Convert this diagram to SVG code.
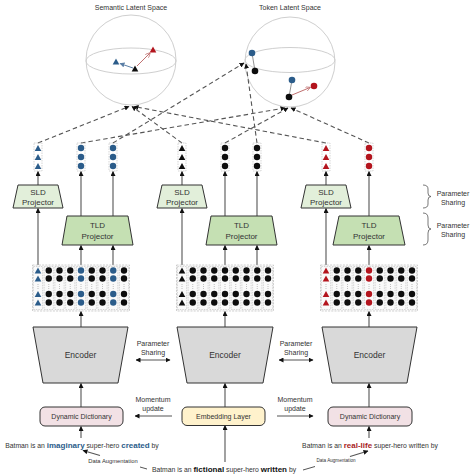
<svg xmlns="http://www.w3.org/2000/svg" xmlns:xlink="http://www.w3.org/1999/xlink" width="474" height="476" viewBox="0 0 474 476">
<style>
text{font-family:"Liberation Sans",Arial,sans-serif;fill:#333}
.lbl{font-size:7px;text-anchor:middle}
.pj{font-size:8px;text-anchor:middle}
.enc{font-size:8.5px;text-anchor:middle}
.sent{font-size:6.8px;text-anchor:middle}
.b{font-weight:bold;font-size:8px}
.sld{fill:#e2efda;stroke:#333;stroke-width:1}
.tld{fill:#c5e0b3;stroke:#333;stroke-width:1}
.encs{fill:#d9d9d9;stroke:#333;stroke-width:1}
.ar{stroke:#555;stroke-width:1.1;fill:none;marker-end:url(#ah)}
.dl{stroke:#555;stroke-width:1.1;fill:none;stroke-dasharray:4.5 3;marker-end:url(#ah)}
.cbox{fill:none;stroke:#bbb;stroke-width:0.6;stroke-dasharray:1.5 1}
.mbox{fill:#fafafa;stroke:#bbb;stroke-width:0.7;stroke-dasharray:2 1.2}
.ell{stroke:#999;stroke-width:0.6;stroke-dasharray:1 1}
.sph{fill:none;stroke:#cfcfcf;stroke-width:1}
</style>
<defs>
<marker id="ah" viewBox="0 0 10 10" refX="9" refY="5" markerWidth="5" markerHeight="5" markerUnits="userSpaceOnUse" orient="auto-start-reverse"><path d="M0,0 L10,5 L0,10 z" fill="#111"/></marker>
<marker id="ahb" viewBox="0 0 10 10" refX="9" refY="5" markerWidth="5" markerHeight="5" markerUnits="userSpaceOnUse" orient="auto"><path d="M0,0 L10,5 L0,10 z" fill="#5b7fa6"/></marker>
<marker id="ahr" viewBox="0 0 10 10" refX="9" refY="5" markerWidth="5" markerHeight="5" markerUnits="userSpaceOnUse" orient="auto"><path d="M0,0 L10,5 L0,10" fill="none" stroke="#c07070" stroke-width="1.5"/></marker>
<path id="t" d="M0,-3.4 L3.3,2.6 L-3.3,2.6Z"/>
<g id="cc"><rect x="-4.6" y="1.5" width="9.2" height="43" class="cbox"/><circle cy="5.5" r="3.2"/><circle cy="13.5" r="3.2"/><line y1="19" y2="25" class="ell"/><circle cy="29" r="3.2"/><circle cy="37.5" r="3.2"/></g>
<g id="tc"><rect x="-4.6" y="1.5" width="9.2" height="43" class="cbox"/><use xlink:href="#t" y="5.8"/><use xlink:href="#t" y="13.8"/><line y1="19" y2="25" class="ell"/><use xlink:href="#t" y="29.3"/><use xlink:href="#t" y="37.8"/></g>
<g id="vcc"><circle cy="5" r="3.2"/><circle cy="14" r="3.2"/><circle cy="23" r="3.2"/></g>
<g id="vtc"><use xlink:href="#t" y="5.3"/><use xlink:href="#t" y="14.3"/><use xlink:href="#t" y="23.3"/></g>
</defs>
<rect width="474" height="476" fill="#fff"/>

<!-- spheres -->
<g id="semantic-space">
<text class="lbl" x="131" y="9.5">Semantic Latent Space</text>
<circle class="sph" cx="131" cy="60" r="45"/>
<ellipse class="sph" cx="131" cy="61" rx="45" ry="13"/>
<line x1="133" y1="68" x2="120" y2="63.5" stroke="#5b7fa6" stroke-width="1" marker-end="url(#ahb)"/>
<line x1="137" y1="66" x2="150" y2="53" stroke="#c07070" stroke-width="1" marker-end="url(#ahr)"/>
<use xlink:href="#t" x="116" y="62" fill="#2b5c8a"/>
<use xlink:href="#t" x="135" y="69" fill="#0d0d0d"/>
<use xlink:href="#t" x="153" y="50" fill="#b3141d"/>
</g>
<g id="token-space">
<text class="lbl" x="290" y="9.5">Token Latent Space</text>
<circle class="sph" cx="290" cy="62" r="45"/>
<ellipse class="sph" cx="290" cy="60" rx="45" ry="12.5"/>
<line x1="255" y1="71" x2="252" y2="53" stroke="#777" stroke-width="0.8"/>
<line x1="289" y1="97" x2="292" y2="80" stroke="#777" stroke-width="0.8"/>
<line x1="292" y1="95" x2="310" y2="87.5" stroke="#c07070" stroke-width="1" marker-end="url(#ahr)"/>
<circle cx="252" cy="53" r="3.3" fill="#2b5c8a"/>
<circle cx="255" cy="71" r="3.3" fill="#0d0d0d"/>
<circle cx="292" cy="80" r="3.3" fill="#2b5c8a"/>
<circle cx="289" cy="97" r="3.3" fill="#0d0d0d"/>
<circle cx="314" cy="86" r="3.3" fill="#b3141d"/>
</g>

<!-- connectors -->
<g id="connectors">
<line class="dl" x1="38" y1="143" x2="129" y2="106.5"/>
<line class="dl" x1="182" y1="143" x2="132" y2="106.5"/>
<line class="dl" x1="326" y1="143" x2="134" y2="106.5"/>
<line class="dl" x1="81" y1="143" x2="285" y2="108"/>
<line class="dl" x1="113" y1="143" x2="244" y2="63"/>
<line class="dl" x1="225" y1="143" x2="288" y2="108"/>
<line class="dl" x1="257" y1="143" x2="246" y2="64"/>
<line class="dl" x1="369" y1="143" x2="291" y2="108"/>

<line class="ar" x1="38" y1="185" x2="38" y2="171.5"/>
<line class="ar" x1="182" y1="185" x2="182" y2="171.5"/>
<line class="ar" x1="326" y1="185" x2="326" y2="171.5"/>
<line class="ar" x1="81" y1="216" x2="81" y2="171.5"/>
<line class="ar" x1="113" y1="216" x2="113" y2="171.5"/>
<line class="ar" x1="225" y1="216" x2="225" y2="171.5"/>
<line class="ar" x1="257" y1="216" x2="257" y2="171.5"/>
<line class="ar" x1="369" y1="216" x2="369" y2="171.5"/>

<line class="ar" x1="38" y1="265" x2="38" y2="208.5"/>
<line class="ar" x1="182" y1="265" x2="182" y2="208.5"/>
<line class="ar" x1="326" y1="265" x2="326" y2="208.5"/>
<line class="ar" x1="81" y1="265" x2="81" y2="245.5"/>
<line class="ar" x1="113" y1="265" x2="113" y2="245.5"/>
<line class="ar" x1="225" y1="265" x2="225" y2="245.5"/>
<line class="ar" x1="257" y1="265" x2="257" y2="245.5"/>
<line class="ar" x1="369" y1="265" x2="369" y2="245.5"/>

<line class="ar" x1="81" y1="327" x2="81" y2="311.5"/>
<line class="ar" x1="225" y1="327" x2="225" y2="311.5"/>
<line class="ar" x1="369" y1="327" x2="369" y2="311.5"/>
<line class="ar" x1="81" y1="407" x2="81" y2="383.5"/>
<line class="ar" x1="225" y1="407" x2="225" y2="383.5"/>
<line class="ar" x1="369" y1="407" x2="369" y2="383.5"/>
<line class="ar" x1="81" y1="438" x2="81" y2="426.5"/>
<line class="ar" x1="225" y1="462" x2="225" y2="425.5"/>
<line class="ar" x1="369" y1="438" x2="369" y2="426.5"/>

<line class="ar" x1="136" y1="360" x2="170" y2="360" style="marker-start:url(#ah)"/>
<line class="ar" x1="279" y1="360" x2="313" y2="360" style="marker-start:url(#ah)"/>
<line class="ar" x1="172" y1="416" x2="135" y2="416"/>
<line class="ar" x1="277" y1="416" x2="313" y2="416"/>

<line x1="147" y1="469" x2="140" y2="467" stroke="#555" stroke-width="1"/>
<line class="ar" x1="100" y1="455.5" x2="83" y2="450.5"/>
<line x1="303" y1="470" x2="315" y2="466.5" stroke="#555" stroke-width="1"/>
<line class="ar" x1="350" y1="456.5" x2="368" y2="451"/>
</g>

<!-- top vectors -->
<g id="vectors">
<rect x="34" y="143" width="8" height="28" fill="#dfe8f2" class="cbox"/><use xlink:href="#vtc" x="38" y="143" fill="#2b5c8a"/>
<rect x="77" y="143" width="8" height="28" fill="#dfe8f2" class="cbox"/><use xlink:href="#vcc" x="81" y="143" fill="#2b5c8a"/>
<rect x="109" y="143" width="8" height="28" fill="#dfe8f2" class="cbox"/><use xlink:href="#vcc" x="113" y="143" fill="#2b5c8a"/>
<rect x="178" y="143" width="8" height="28" fill="#f2f2f2" class="cbox"/><use xlink:href="#vtc" x="182" y="143" fill="#0d0d0d"/>
<rect x="221" y="143" width="8" height="28" fill="#f2f2f2" class="cbox"/><use xlink:href="#vcc" x="225" y="143" fill="#0d0d0d"/>
<rect x="253" y="143" width="8" height="28" fill="#f2f2f2" class="cbox"/><use xlink:href="#vcc" x="257" y="143" fill="#0d0d0d"/>
<rect x="322" y="143" width="8" height="28" fill="#f7e0e0" class="cbox"/><use xlink:href="#vtc" x="326" y="143" fill="#b3141d"/>
<rect x="365" y="143" width="8" height="28" fill="#f7e0e0" class="cbox"/><use xlink:href="#vcc" x="369" y="143" fill="#b3141d"/>
</g>

<!-- projectors -->
<g id="sld-left"><polygon class="sld" points="18,185 58,185 63,208 13,208"/><text class="pj" x="38" y="194.5">SLD</text><text class="pj" x="38" y="205">Projector</text></g>
<g id="sld-mid"><polygon class="sld" points="162,185 202,185 207,208 157,208"/><text class="pj" x="182" y="194.5">SLD</text><text class="pj" x="182" y="205">Projector</text></g>
<g id="sld-right"><polygon class="sld" points="306,185 346,185 351,208 301,208"/><text class="pj" x="326" y="194.5">SLD</text><text class="pj" x="326" y="205">Projector</text></g>
<g id="tld-left"><polygon class="tld" points="67,216 128,216 133,245 62,245"/><text class="pj" x="97.5" y="228">TLD</text><text class="pj" x="97.5" y="239">Projector</text></g>
<g id="tld-mid"><polygon class="tld" points="211,216 272,216 277,245 206,245"/><text class="pj" x="241.5" y="228">TLD</text><text class="pj" x="241.5" y="239">Projector</text></g>
<g id="tld-right"><polygon class="tld" points="339,216 399,216 405,245 333,245"/><text class="pj" x="369" y="228">TLD</text><text class="pj" x="369" y="239">Projector</text></g>

<g id="sharing-braces">
<path d="M423,185 Q428,185 428,189 L428,193 Q428,196.5 431,196.5 Q428,196.5 428,200 L428,204 Q428,208 423,208" fill="none" stroke="#555" stroke-width="0.8"/>
<text class="lbl" x="453" y="195.5">Parameter</text><text class="lbl" x="453" y="204.5">Sharing</text>
<path d="M423,213 Q428,213 428,218 L428,225 Q428,229 431,229 Q428,229 428,233 L428,240 Q428,245 423,245" fill="none" stroke="#555" stroke-width="0.8"/>
<text class="lbl" x="453" y="227.5">Parameter</text><text class="lbl" x="453" y="237">Sharing</text>
</g>

<!-- token matrices -->
<g id="matrix-left">
<rect class="mbox" x="32.5" y="265" width="97" height="46"/>
<use xlink:href="#tc" x="38" y="265" fill="#2b5c8a"/>
<use xlink:href="#cc" x="48.75" y="265" fill="#0d0d0d"/>
<use xlink:href="#cc" x="59.5" y="265" fill="#0d0d0d"/>
<use xlink:href="#cc" x="70.25" y="265" fill="#0d0d0d"/>
<use xlink:href="#cc" x="81" y="265" fill="#2b5c8a"/>
<use xlink:href="#cc" x="91.75" y="265" fill="#0d0d0d"/>
<use xlink:href="#cc" x="102.5" y="265" fill="#0d0d0d"/>
<use xlink:href="#cc" x="113.25" y="265" fill="#2b5c8a"/>
<use xlink:href="#cc" x="124" y="265" fill="#0d0d0d"/>
</g>
<g id="matrix-mid">
<rect class="mbox" x="176.5" y="265" width="97" height="46"/>
<use xlink:href="#tc" x="182" y="265" fill="#0d0d0d"/>
<use xlink:href="#cc" x="192.75" y="265" fill="#0d0d0d"/>
<use xlink:href="#cc" x="203.5" y="265" fill="#0d0d0d"/>
<use xlink:href="#cc" x="214.25" y="265" fill="#0d0d0d"/>
<use xlink:href="#cc" x="225" y="265" fill="#0d0d0d"/>
<use xlink:href="#cc" x="235.75" y="265" fill="#0d0d0d"/>
<use xlink:href="#cc" x="246.5" y="265" fill="#0d0d0d"/>
<use xlink:href="#cc" x="257.25" y="265" fill="#0d0d0d"/>
<use xlink:href="#cc" x="268" y="265" fill="#0d0d0d"/>
</g>
<g id="matrix-right">
<rect class="mbox" x="320.5" y="265" width="97" height="46"/>
<use xlink:href="#tc" x="326" y="265" fill="#b3141d"/>
<use xlink:href="#cc" x="336.75" y="265" fill="#0d0d0d"/>
<use xlink:href="#cc" x="347.5" y="265" fill="#0d0d0d"/>
<use xlink:href="#cc" x="358.25" y="265" fill="#0d0d0d"/>
<use xlink:href="#cc" x="369" y="265" fill="#b3141d"/>
<use xlink:href="#cc" x="379.75" y="265" fill="#0d0d0d"/>
<use xlink:href="#cc" x="390.5" y="265" fill="#0d0d0d"/>
<use xlink:href="#cc" x="401.25" y="265" fill="#0d0d0d"/>
<use xlink:href="#cc" x="412" y="265" fill="#0d0d0d"/>
</g>

<!-- encoders -->
<g id="encoder-left"><polygon class="encs" points="33,327 128,327 118,383 43,383"/><text class="enc" x="80.5" y="358">Encoder</text></g>
<g id="encoder-mid"><polygon class="encs" points="177,327 273,327 263,383 187,383"/><text class="enc" x="225" y="358">Encoder</text></g>
<g id="encoder-right"><polygon class="encs" points="322,327 417,327 407,383 332,383"/><text class="enc" x="369.5" y="358">Encoder</text></g>

<g id="labels-mid">
<text class="lbl" x="153" y="345.5">Parameter</text><text class="lbl" x="153" y="354.5">Sharing</text>
<text class="lbl" x="296" y="345.5">Parameter</text><text class="lbl" x="296" y="354.5">Sharing</text>
<text class="lbl" x="153" y="401.5">Momentum</text><text class="lbl" x="153" y="411">update</text>
<text class="lbl" x="295" y="401.5">Momentum</text><text class="lbl" x="295" y="411">update</text>
</g>

<g id="dict-left"><rect x="40" y="407" width="83" height="19" rx="5" fill="#f2e1e5" stroke="#333" stroke-width="1"/><text class="lbl" x="81.5" y="418.5">Dynamic Dictionary</text></g>
<g id="embedding"><rect x="182" y="407" width="83" height="18.5" rx="5" fill="#fff2cc" stroke="#333" stroke-width="1"/><text class="lbl" x="223.5" y="418.5">Embedding Layer</text></g>
<g id="dict-right"><rect x="328" y="407" width="84" height="19" rx="5" fill="#f2e1e5" stroke="#333" stroke-width="1"/><text class="lbl" x="370" y="418.5">Dynamic Dictionary</text></g>

<g id="sentences">
<text class="sent" x="82" y="448">Batman is an <tspan class="b" fill="#2b5c8a">imaginary</tspan> super-hero <tspan class="b" fill="#2b5c8a">created</tspan> by</text>
<text class="sent" x="370" y="448">Batman is an <tspan class="b" fill="#a81c24">real-life</tspan> super-hero written by</text>
<text class="sent" x="224" y="472">Batman is an <tspan class="b" fill="#111">fictional</tspan> super-hero <tspan class="b" fill="#111">written</tspan> by</text>
<text x="113" y="463" style="font-size:5.8px;text-anchor:middle">Data Augmentation</text>
<text x="336" y="462" style="font-size:4.6px;text-anchor:middle">Data Augmentation</text>
</g>
</svg>
